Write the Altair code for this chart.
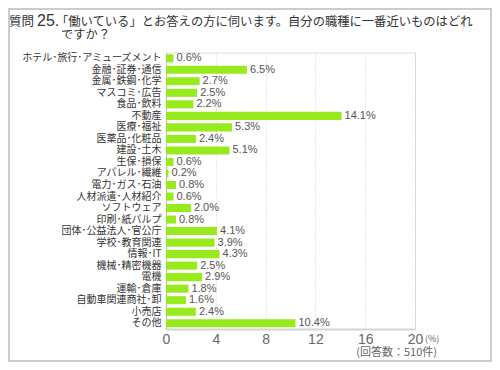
import altair as alt
import pandas as pd

categories = ["ホテル・旅行・アミューズメント", "金融・証券・通信", "金属・鉄鋼・化学", "マスコミ・広告",
              "食品・飲料", "不動産", "医療・福祉", "医薬品・化粧品", "建設・土木", "生保・損保",
              "アパレル・繊維", "電力・ガス・石油", "人材派遣・人材紹介", "ソフトウェア", "印刷・紙パルプ",
              "団体・公益法人・官公庁", "学校・教育関連", "情報・IT", "機械・精密機器", "電機",
              "運輸・倉庫", "自動車関連商社・卸", "小売店", "その他"]
values = [0.6, 6.5, 2.7, 2.5, 2.2, 14.1, 5.3, 2.4, 5.1, 0.6, 0.2, 0.8, 0.6, 2.0, 0.8,
          4.1, 3.9, 4.3, 2.5, 2.9, 1.8, 1.6, 2.4, 10.4]
x_ticks = [0, 4, 8, 12, 16, 20]
title_q = "質問"
title_num = "25."
title_line1 = "「働いている」とお答えの方に伺います。自分の職種に一番近いものはどれ"
title_line2 = "ですか？"
unit_text = "(%)"
note_text = "(回答数：510件)"

df = pd.DataFrame({"cat": categories, "val": values})
df["label"] = [f"{v:.1f}%" for v in values]

FONT = "Noto Sans CJK JP"
NUMFONT = "Liberation Sans"
OX, OY = 166, 52.5  # plot origin in page coords

x_enc = alt.X("val:Q", scale=alt.Scale(domain=[0, 20], nice=False, zero=True),
              axis=alt.Axis(values=x_ticks, title=None, tickSize=0, labelPadding=3,
                            labelFontSize=14, labelColor="#666", labelFont=NUMFONT,
                            domainColor="#d4d4d4", domainWidth=2,
                            grid=True, gridColor="#d0d0d0", gridDash=[1, 2],
                            labelFlush=False))
y_enc = alt.Y("cat:N", sort=categories, scale=alt.Scale(paddingInner=0.3, paddingOuter=0.15),
              axis=alt.Axis(title=None, tickSize=0, labelPadding=5, labelFontSize=10,
                            labelColor="#333", labelFont=FONT, domainColor="#bbb",
                            domainWidth=1, grid=False, labelLimit=200,
                            labelExpr="replace(replace(replace(datum.label, '・', '･'), '・', '･'), '・', '･')"))

bars = alt.Chart(df).mark_bar(color="#97ea1c").encode(x=x_enc, y=y_enc)
labels = alt.Chart(df).mark_text(align="left", baseline="middle", dx=3, fontSize=11,
                                 color="#555", font=NUMFONT).encode(
    x="val:Q", y=alt.Y("cat:N", sort=categories), text="label:N")


def txt(s, px, py, size, align="left", color="#333", font=FONT):
    return alt.Chart(pd.DataFrame({"t": [s]})).mark_text(
        align=align, baseline="alphabetic", fontSize=size, color=color, font=font).encode(
        x=alt.value(px - OX), y=alt.value(py - OY), text="t:N")


border = alt.Chart(pd.DataFrame({"a": [0]})).mark_rect(
    fill=None, stroke="#cccccc", strokeWidth=2).encode(
    x=alt.value(9 - OX), x2=alt.value(491 - OX), y=alt.value(9 - OY), y2=alt.value(361 - OY))

chart = alt.layer(
    bars, labels,
    txt(title_q, 9, 26, 12.5),
    txt(title_num, 37, 26, 16, font=NUMFONT),
    txt(title_line1, 56, 26, 12.3),
    txt(title_line2, 61, 39, 12.3),
    txt(unit_text, 425, 342, 9, color="#666"),
    txt(note_text, 437, 356, 11, align="right", color="#666"),
    border,
).properties(
    width=249, height=276.5,
    autosize=alt.AutoSizeParams(type="none"),
    padding={"left": 158, "top": 44.5, "right": 77, "bottom": 33},
).configure_view(stroke=None).configure(background="white")

chart.save("out.html", embed_options={"renderer": "svg", "actions": False})
